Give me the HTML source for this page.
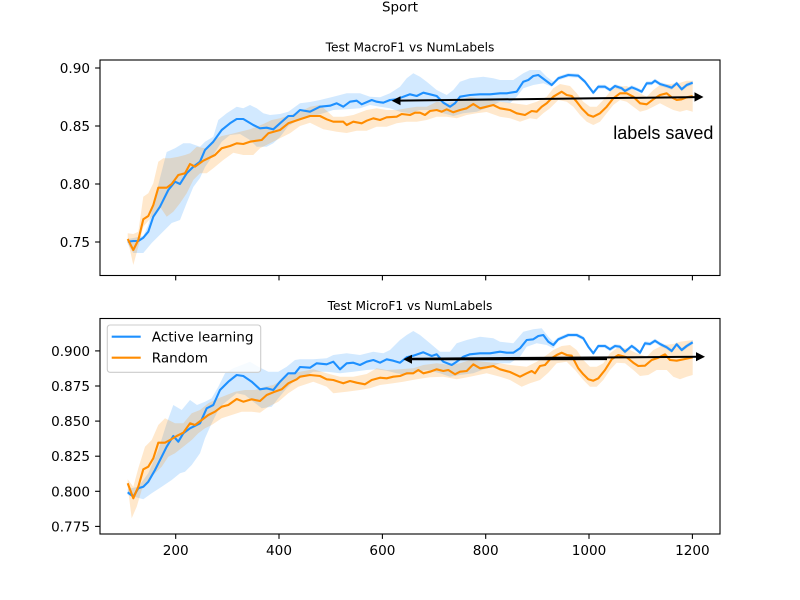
<!DOCTYPE html>
<html>
<head>
<meta charset="utf-8">
<style>
html,body{margin:0;padding:0;background:#fff;}
svg{display:block;}
.t{font-family:"DejaVu Sans","Liberation Sans",sans-serif;fill:#000;}
</style>
</head>
<body>
<svg width="800" height="600" viewBox="0 0 800 600" xmlns="http://www.w3.org/2000/svg">
<rect x="0" y="0" width="800" height="600" fill="#fff"/>

<!-- ===== TOP PANEL ===== -->
<!-- blue band -->
<polygon fill="#1e90ff" fill-opacity="0.2" stroke="none" points="127.7,239 133.3,238 143.3,236 148.3,225 153.3,205 160,178 166.7,152 175,148.3 183.3,143.3 190,143.3 200,146.7 205,141.7 213.3,136.7 218.3,120 226.7,113.3 236.7,106.7 243.3,108.3 250,105 256.7,108.3 263.3,113.3 270,115 280,114 288.3,111.7 300,103.3 310,102 320,100 333.3,96.7 346.7,93.3 360,93.3 370,96.7 380,97.3 390,93.3 400,86.7 406.7,78.3 413.3,73.3 420,76.7 426.7,81.7 436.7,90 446.7,95 453.3,90 460,81.7 470,78.3 483.3,76.7 493.3,78.3 500,80 513.3,80 523.3,73.3 530,70 540,70 546.7,76.7 553.3,81.7 558.3,76.3 568.3,73 578.3,73.7 585,79.7 593.3,90.7 598.3,84.7 605,84.7 610,88 615,84 621.7,86.3 625,89 631.7,85.3 636.7,87.3 641.7,89.7 646.7,81.3 651.7,81.3 655,78.7 660,82 666.7,84 671.7,85.7 676.7,81.3 681.7,87.3 686.7,83 692.7,80.7 692.7,84.7 686.7,87 681.7,91.3 676.7,85.3 671.7,89.7 666.7,88 660,86 655,82.7 651.7,85.3 646.7,85.3 641.7,93.7 636.7,91.3 631.7,89.3 625,93 621.7,90.3 615,88 610,92 605,88.7 598.3,88.7 593.3,94.7 585,83.7 578.3,77.7 568.3,77 558.3,80.3 551.7,86.7 543.3,83.3 533.3,85 523.3,88.3 516.7,96.7 510,103.3 500,101.7 490,106.7 476.7,111.7 463.3,113.3 453.3,116 443.3,113.3 433.3,110 420,110 410,113.3 400,111.7 390,108.3 380,106.7 370,105 360,108.3 346.7,109.3 333.3,110 323.3,113.3 310,117 298.3,120 288.3,126 280,137 273.3,143.3 266.7,146.7 256.7,146.7 250,140 240,134 230,135 221.7,141.7 213.3,155 205,167 200,178 193.3,187 186.7,203 180,220 171.7,223 161.7,233 151.7,243 143.3,253 133.3,253 127.7,244"/>
<!-- orange band -->
<polygon fill="#ff8c00" fill-opacity="0.2" stroke="none" points="127.7,233.3 133.3,234 138.3,231.7 143.3,196.7 148.3,193.3 153.3,183.3 158.3,161.7 163.3,158.3 170,158.3 178.3,156.7 185,155 190,153.3 196.7,146.7 205,148.3 213.3,140 221.7,136 230,134.3 240,131.7 250,129.3 263.3,124 271.7,120 280,118.3 290,115 300,111.7 310,106.7 320,105 326.7,110.7 333.3,116.7 343.3,116.7 353.3,115 366.7,110 376.7,108.3 386.7,110 396.7,110 406.7,108.3 416.7,106.7 426.7,106.7 436.7,101.7 446.7,103.3 456.7,101.7 470,96.7 476.7,98.3 486.7,100 500,101.7 513.3,103.3 526.7,105 536.7,101.7 546.7,96.7 553.3,88.3 560,84 570,86 576.7,93.3 583.3,101.7 590,106.7 596.7,106.7 603.3,100 610,91.7 616.7,86.7 626.7,86 636.7,91.7 646.7,96.7 653.3,90 660,85 670,84 680,82.7 686.7,80.7 692.7,80.7 692.7,111.7 686.7,110 680,111.7 673.3,110 666.7,106.7 660,103.3 653.3,106.7 646.7,110 640,111.7 633.3,106.7 626.7,101.7 620,100 613.3,105 606.7,113.3 600,121.7 593.3,125 586.7,121.7 580,115 573.3,106.7 566.7,101.7 558.3,100 550,108.3 543.3,113.3 536.7,119.3 530,118.3 520,121.7 510,118.3 500,116.7 486.7,112 476.7,113.3 466.7,115 456.7,118.3 446.7,116.7 436.7,116.7 426.7,120 416.7,121.7 406.7,121.7 396.7,123.3 386.7,126.7 376.7,126.7 366.7,130.7 356.7,130.7 346.7,133 336.7,131.7 323.3,129.3 310,122.7 300,126 290,133.3 280,138.3 270,143.3 260,148.3 253.3,155 243.3,155 233.3,152.7 223.3,160 213.3,168.3 206.7,173.3 200,173.3 193.3,180 186.7,193.3 180,203.3 173.3,211.7 166.7,216.7 160,206.7 153.3,215 143.3,226.7 138.3,246.7 133.3,265 127.7,240"/>
<!-- blue line -->
<polyline fill="none" stroke="#1e90ff" stroke-width="2.1" stroke-linejoin="round" points="127.7,241.7 133.3,241 138.3,241 143.3,237.7 148.3,231.7 153.3,216.7 160,206.7 168.3,190 175,181.7 180,184 186.7,173.3 193.3,166.7 200,161.7 205,150 213.3,141.7 221.7,130 230,123.3 236.7,119 243.3,119 253.3,125 260,128.3 266.7,127.7 273.3,129.3 280,123.3 288.3,116 293.3,116 300,110 310,111.7 320,106.7 330,105.7 336.7,103.3 343.3,106.7 350,101.7 356.7,100.7 361.7,104.3 371.7,100 376.7,101.7 383.3,102.7 390,100 396.7,99.3 403.3,96.7 410,94.3 416.7,96 423.3,92.7 430,94.3 436.7,96 443.3,102.7 450,106.7 455,103.3 460,96.7 470,95 480,94.3 490,94.3 500,93.3 506.7,93.3 516.7,91.7 523.3,81.7 528.3,80 533.3,76 538.3,75 545,80 551.7,85 558.3,78.3 568.3,75 578.3,75.7 585,81.7 593.3,92.7 598.3,86.7 605,86.7 610,90 615,86 621.7,88.3 625,91 631.7,87.3 636.7,89.3 641.7,91.7 646.7,83.3 651.7,83.3 655,80.7 660,84 666.7,86 671.7,87.7 676.7,83.3 681.7,89.3 686.7,85 692.7,82.7"/>
<!-- orange line -->
<polyline fill="none" stroke="#ff8c00" stroke-width="2.1" stroke-linejoin="round" points="127.7,239 133.3,250 138.3,240 143.3,219.3 148.3,216 153.3,205 158.3,187.7 166.7,187.7 171.7,184 178.3,175 185,173.3 190,164 195,166.7 203.3,160.7 215,155 221.7,148.3 230,146 236.7,143.3 243.3,144 250,141.7 261.7,140 268.3,133.3 280,130 288.3,123.3 300,119.3 310,116 320,116 326.7,119.3 333.3,121.7 343.3,121.7 346.7,125 353.3,121.7 361.7,123.3 366.7,120.7 373.3,118.3 380,120 386.7,117.3 396.7,116.7 401.7,114 410,115 415,112.7 420,112.7 425,115 430,111 436.7,110 441.7,111.7 446.7,109.3 453.3,112.3 460,110 466.7,108.3 473.3,104 480,108.3 486.7,106.7 493.3,105 500,108.3 510,110 516.7,113.3 525,115 531.7,111 536.7,111.7 541.7,106.7 546.7,103.3 553.3,96.7 561.7,91.7 566.7,95 571.7,96 576.7,101.7 581.7,108.3 588.3,115 593.3,116.7 600,113.3 606.7,106.7 613.3,98.3 620,93.3 626.7,93.3 633.3,96.7 640,103.3 646.7,104.3 653.3,99.3 660,95 666.7,93.3 671.7,97.3 676.7,100 681.7,99.3 686.7,97.3 692.7,96"/>
<!-- arrow top -->
<line x1="399" y1="100.6" x2="696" y2="97.1" stroke="#000" stroke-width="2"/>
<polygon fill="#000" points="391.7,100.7 400.5,96.2 400.5,105.2"/>
<polygon fill="#000" points="703.5,97 694.5,92.3 694.5,101.6"/>
<text x="613.3" y="139" font-family="Liberation Sans, Arial, sans-serif" font-size="18" fill="#000">labels saved</text>

<!-- frame top -->
<rect x="100" y="60" width="620" height="215.5" fill="none" stroke="#000" stroke-width="1.1"/>
<!-- y ticks top -->
<g stroke="#000" stroke-width="1.1">
<line x1="95.1" y1="68" x2="100" y2="68"/>
<line x1="95.1" y1="126" x2="100" y2="126"/>
<line x1="95.1" y1="184" x2="100" y2="184"/>
<line x1="95.1" y1="242" x2="100" y2="242"/>
<line x1="175.7" y1="275.5" x2="175.7" y2="280.4"/>
<line x1="279" y1="275.5" x2="279" y2="280.4"/>
<line x1="382.4" y1="275.5" x2="382.4" y2="280.4"/>
<line x1="485.7" y1="275.5" x2="485.7" y2="280.4"/>
<line x1="589" y1="275.5" x2="589" y2="280.4"/>
<line x1="692.4" y1="275.5" x2="692.4" y2="280.4"/>
</g>
<g class="t" font-size="13.6" text-anchor="end">
<text x="90" y="73">0.90</text>
<text x="90" y="131">0.85</text>
<text x="90" y="189">0.80</text>
<text x="90" y="247">0.75</text>
</g>

<!-- ===== BOTTOM PANEL ===== -->
<polygon fill="#1e90ff" fill-opacity="0.2" stroke="none" points="127.7,489 138.3,486.7 148.3,473.3 158.3,450 166.7,423.3 173.3,405 181.7,410 190,400 197,405 205,401.7 211.7,398.3 218.3,386.7 225,373.3 233.3,368.3 241.7,365 250,361.7 258.3,366.7 268.3,371.7 278.3,371.7 286.7,366.7 295,360 300,359.3 313.3,359.3 326.7,358.3 333.3,355 346.7,353.3 360,355 373.3,351.7 383.3,353.3 390,350 400,340 406.7,335 413.3,331 420,335 430,343.3 440,351.7 450,351.7 456.7,343.3 466.7,340 480,336.7 493.3,338.3 500,341.7 513.3,343.3 523.3,331.7 533.3,329.3 541.7,328.3 548.3,336.7 553.3,341.7 558.3,337.3 568.3,333 576.7,333 583.3,336.3 588.3,344.7 593.3,351.3 598.3,344 605,344 610,347.3 615,344 620,344.7 625,349.7 631.7,344 635,346.3 640,350.7 645,341.3 650,342 655,338.7 660,342 666.7,345.3 671.7,349 676.7,342.3 681.7,348 686.7,344 692.7,340.3 692.7,344.3 686.7,348 681.7,352 676.7,346.3 671.7,353 666.7,349.3 660,346 655,342.7 650,346 645,345.3 640,354.7 635,350.3 631.7,348 625,353.7 620,348.7 615,348 610,351.3 605,348 598.3,348 593.3,355.3 588.3,348.7 583.3,340.3 576.7,337 568.3,337 558.3,341.3 553.3,348.3 546.7,345 536.7,343.3 526.7,346.7 520,356.7 510,363.3 500,363.3 486.7,368.3 473.3,373.3 460,375 450,376.7 440,373.3 426.7,370 416.7,371.7 406.7,375 396.7,373.3 386.7,370.7 376.7,369.3 366.7,370 353.3,371.7 340,373.3 326.7,371.7 313.3,371.7 305,376 295,380 286.7,388.3 278.3,398.3 271.7,406.7 261.7,408.3 253.3,401.7 245,395 236.7,393.3 228.3,400 220,406.7 211.7,423.3 205,438.3 200,453.3 191.7,465 185,471.7 180,473.3 171.7,480 161.7,486.7 151.7,493.3 143.3,499.3 135,497 127.7,495"/>
<polygon fill="#ff8c00" fill-opacity="0.2" stroke="none" points="127.7,479.3 133.3,486.7 138.3,468.3 145,446.7 151.7,440 158.3,425 165,418.3 175,423.3 183.3,423.3 191.7,413.3 200,410 208.3,403.3 218.3,398.3 226.7,395 235,391.7 245,390 255,390 265,386.7 273.3,385 281.7,380 291.7,373.3 300,371.7 313.3,369.3 326.7,373.3 340,376.7 353.3,376.7 366.7,374 376.7,368.3 386.7,370 400,369.3 413.3,368.3 423.3,365 436.7,363.3 450,365 460,363.3 470,360 483.3,361.7 500,363.3 510,365 526.7,366.7 536.7,361.7 546.7,355 553.3,350 561.7,346 570,345 576.7,350 583.3,360 590,366.7 596.7,366.7 603.3,363.3 610,353.3 616.7,348.3 626.7,348.3 636.7,353.3 646.7,356.7 653.3,350 663.3,345 673.3,344 680,341.7 692.7,340 692.7,375 686.7,376.7 680,379.3 673.3,376.7 666.7,370 656.7,370 648.3,375 640,376 633.3,370 625,363.3 616.7,362.7 610,370 603.3,380 596.7,386.7 590,386.7 583.3,380 575,370 566.7,361.7 556.7,363.3 548.3,372.7 540,380 530,383.3 521.7,386.7 510,380 500,376.7 486.7,373.3 470,376.7 456.7,379.3 443.3,376.7 430,377.3 416.7,379.3 403.3,381.7 393.3,383.3 380,385 370,388.3 360,390 346.7,391.7 333.3,393.3 326.7,386.7 313.3,381.7 298.3,386.7 288.3,393.3 278.3,401.7 268.3,406.7 260,412.7 251.7,411.7 241.7,411.7 231.7,415 221.7,418.3 211.7,425 205,428.3 198.3,433.3 191.7,440 183.3,446.7 175,453.3 168.3,456.7 161.7,466.7 155,473.3 148.3,480 141.7,490 136.7,506.7 131.7,518.3 127.7,486.7"/>
<polyline fill="none" stroke="#1e90ff" stroke-width="2.1" stroke-linejoin="round" points="127.7,492.3 133.3,496.7 138.3,488.3 143.3,486.7 148.3,481.7 155,470 161.7,456.7 166.7,446.7 173.3,436 178.3,441.7 183.3,433.3 190,428.3 200,423.3 206.7,408.3 213.3,405 220,390 228.3,381.7 236.7,375 243.3,376 251.7,381.7 260,389.3 266.7,388.3 273.3,390 280,381.7 288.3,373.3 295,373.3 300,367 310,367.7 316.7,363.3 326.7,364.3 333.3,361.7 340,369.3 346.7,363.3 353.3,362.7 360,365 366.7,361.7 373.3,360 380,362.7 386.7,359.3 393.3,360.7 400,362.7 406.7,357.3 413.3,355.7 423.3,352.3 431.7,356 436.7,354.3 443.3,361.7 451.7,365 456.7,361.7 463.3,356.7 470,354.3 480,353.3 490,353.3 500,351.7 506.7,352.7 513.3,352.7 520,348.3 526.7,340 533.3,339.3 538.3,336 543.3,335 548.3,341.7 553.3,345 558.3,339.3 568.3,335 576.7,335 583.3,338.3 588.3,346.7 593.3,353.3 598.3,346 605,346 610,349.3 615,346 620,346.7 625,351.7 631.7,346 635,348.3 640,352.7 645,343.3 650,344 655,340.7 660,344 666.7,347.3 671.7,351 676.7,344.3 681.7,350 686.7,346 692.7,342.3"/>
<polyline fill="none" stroke="#ff8c00" stroke-width="2.1" stroke-linejoin="round" points="127.7,483.3 133.3,498.3 138.3,486.7 143.3,469.3 148.3,466.7 153.3,458.3 158.3,442.7 165,442.7 170,440 176.7,436 183.3,432.7 190,423.3 195,425 201.7,420 208.3,415 215,411.7 221.7,406.7 228.3,405 236.7,399 243.3,401.7 251.7,399.3 260,401 266.7,395 273.3,392.3 281.7,389.3 288.3,383.3 296.7,379.3 300,376.7 310,375 320,376 326.7,379.3 333.3,380 343.3,383.3 350,381 356.7,382.7 365,384.3 371.7,380 380,377.7 386.7,378.3 393.3,376.7 400,376 406.7,373.3 413.3,373.3 418.3,370 423.3,373.3 430,371.7 436.7,369.3 443.3,371 448.3,370 455,374.3 460,371.7 466.7,371 473.3,364.3 480,368.3 486.7,367.3 493.3,366 500,369.3 510,372 520,376.7 526.7,373.3 531.7,371 535,373.3 540,366 545,365 550,359.3 556.7,355 561.7,352.7 566.7,355 571.7,355.7 578.3,368.3 583.3,374.3 588.3,379.3 593.3,380.7 598.3,378.3 605,370 611.7,359.3 618.3,355 626.7,357.3 633.3,362.7 638.3,366 645,365.7 651.7,360 658.3,357.7 665,354.3 670,360 676.7,360.7 685,359 692.7,357.3"/>
<!-- arrows bottom -->
<line x1="410" y1="359.3" x2="607" y2="359.1" stroke="#000" stroke-width="2"/>
<line x1="410" y1="358.7" x2="698" y2="356.8" stroke="#000" stroke-width="2"/>
<polygon fill="#000" points="403.3,359.3 412,354.8 412,363.8"/>
<polygon fill="#000" points="705,356.7 696,352.1 696,361.3"/>

<!-- frame bottom -->
<rect x="100" y="318.5" width="620" height="215.5" fill="none" stroke="#000" stroke-width="1.1"/>
<g stroke="#000" stroke-width="1.1">
<line x1="95.1" y1="350.9" x2="100" y2="350.9"/>
<line x1="95.1" y1="386" x2="100" y2="386"/>
<line x1="95.1" y1="421.1" x2="100" y2="421.1"/>
<line x1="95.1" y1="456.2" x2="100" y2="456.2"/>
<line x1="95.1" y1="491.3" x2="100" y2="491.3"/>
<line x1="95.1" y1="526.4" x2="100" y2="526.4"/>
<line x1="175.7" y1="534" x2="175.7" y2="538.9"/>
<line x1="279" y1="534" x2="279" y2="538.9"/>
<line x1="382.4" y1="534" x2="382.4" y2="538.9"/>
<line x1="485.7" y1="534" x2="485.7" y2="538.9"/>
<line x1="589" y1="534" x2="589" y2="538.9"/>
<line x1="692.4" y1="534" x2="692.4" y2="538.9"/>
</g>
<g class="t" font-size="13.6" text-anchor="end">
<text x="90" y="355.9">0.900</text>
<text x="90" y="391">0.875</text>
<text x="90" y="426.1">0.850</text>
<text x="90" y="461.2">0.825</text>
<text x="90" y="496.3">0.800</text>
<text x="90" y="531.4">0.775</text>
</g>
<g class="t" font-size="13.6" text-anchor="middle">
<text x="175.7" y="555">200</text>
<text x="279" y="555">400</text>
<text x="382.4" y="555">600</text>
<text x="485.7" y="555">800</text>
<text x="589" y="555">1000</text>
<text x="692.4" y="555">1200</text>
</g>

<!-- legend -->
<rect x="107.3" y="325" width="153.4" height="47.3" rx="2.8" ry="2.8" fill="#fff" fill-opacity="0.8" stroke="#cccccc" stroke-width="1.1"/>
<line x1="111.7" y1="336.7" x2="140.7" y2="336.7" stroke="#1e90ff" stroke-width="2.1"/>
<line x1="111.7" y1="357.7" x2="140.7" y2="357.7" stroke="#ff8c00" stroke-width="2.1"/>
<text class="t" x="151.7" y="341.3" font-size="13.6">Active learning</text>
<text class="t" x="151.7" y="362.3" font-size="13.6">Random</text>

<!-- titles -->
<text class="t" x="400" y="11.5" font-size="13.4" text-anchor="middle">Sport</text>
<text class="t" x="410" y="51.7" font-size="12.2" text-anchor="middle">Test MacroF1 vs NumLabels</text>
<text class="t" x="410" y="310.2" font-size="12.2" text-anchor="middle">Test MicroF1 vs NumLabels</text>
</svg>
</body>
</html>
